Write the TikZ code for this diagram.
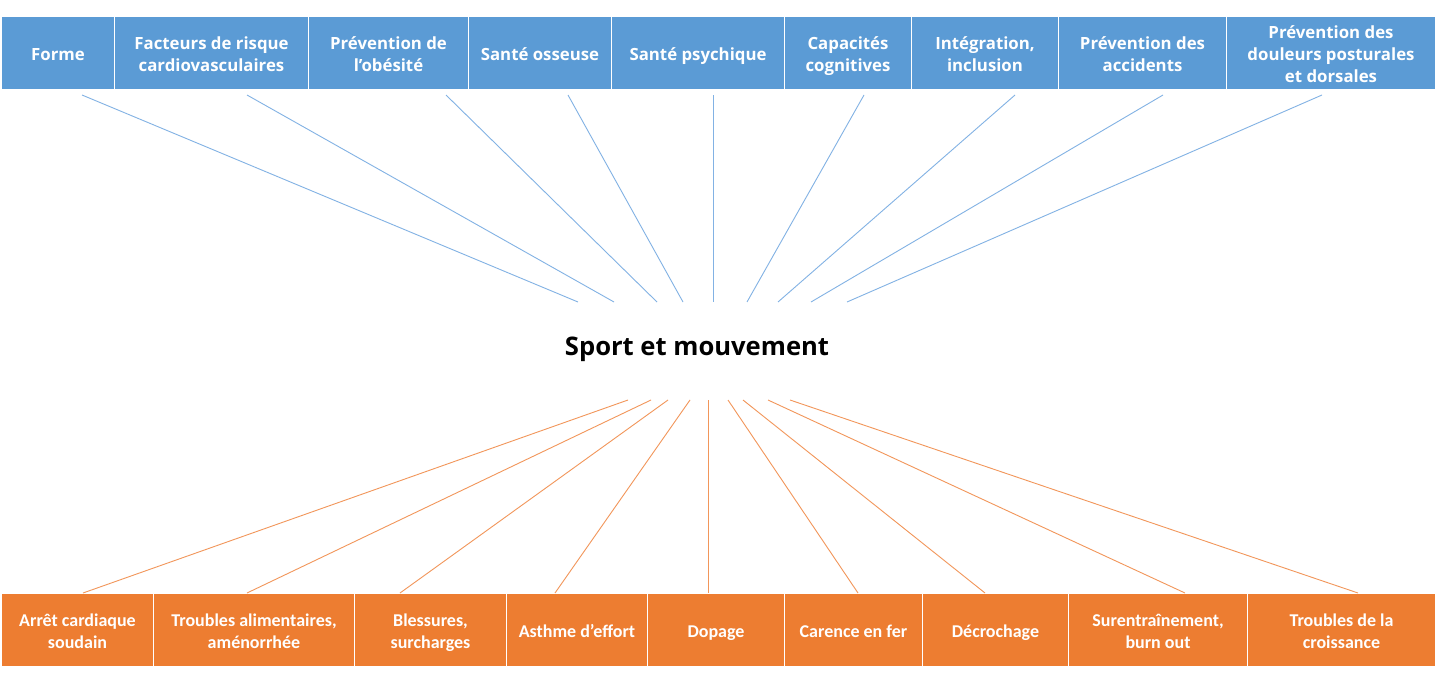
\documentclass[tikz,border=0pt]{standalone}
\usepackage{fontspec}
\setmainfont{Open Sans}
\newfontfamily\calib{Carlito}
\newcommand\tstr{\rule{0pt}{22.4pt}}
\definecolor{boxblue}{RGB}{91,155,213}
\definecolor{boxorange}{RGB}{237,125,49}
\definecolor{lineblue}{RGB}{130,178,228}
\definecolor{lineorange}{RGB}{242,150,90}
\tikzset{
  box/.style={rectangle, draw=white, line width=1.2pt, inner sep=0pt, minimum height=74pt,
    text=white, align=center},
  topbox/.style={box, fill=boxblue, font=\bfseries\fontsize{16.8}{22}\selectfont},
  botbox/.style={box, fill=boxorange, font=\calib\bfseries\fontsize{18}{22}\selectfont},
  bluelink/.style={draw=lineblue, line width=0.9pt},
  orangelink/.style={draw=lineorange, line width=0.9pt},
  centre/.style={font=\bfseries\fontsize{25.6}{30}\selectfont, text=black}
}
\begin{document}
\begin{tikzpicture}[x=1pt,y=-1pt]
\useasboundingbox[fill=white] (0,0) rectangle (1440,680);
% top boxes
\node[topbox, minimum width=113pt] (t1) at (58,53) {\tstr Forme\strut};
\node[topbox, minimum width=194pt] (t2) at (211.5,53) {\tstr Facteurs de risque\\cardiovasculaires\strut};
\node[topbox, minimum width=160pt] (t3) at (388.5,53) {\tstr Prévention de\\l’obésité\strut};
\node[topbox, minimum width=143pt] (t4) at (540,53) {\tstr Santé osseuse\strut};
\node[topbox, minimum width=173pt] (t5) at (698,53) {\tstr Santé psychique\strut};
\node[topbox, minimum width=127pt] (t6) at (848,53) {\tstr Capacités\\cognitives\strut};
\node[topbox, minimum width=147pt] (t7) at (985,53) {\tstr Intégration,\\inclusion\strut};
\node[topbox, minimum width=168pt] (t8) at (1142.5,53) {\tstr Prévention des\\accidents\strut};
\node[topbox, minimum width=209pt] (t9) at (1331,53) {\tstr Prévention des\\douleurs posturales\\et dorsales\strut};
% bottom boxes
\node[botbox, minimum width=152pt] (b1) at (77.5,630) {\tstr Arrêt cardiaque\\soudain\strut};
\node[botbox, minimum width=201pt] (b2) at (254,630) {\tstr Troubles alimentaires,\\aménorrhée\strut};
\node[botbox, minimum width=152pt] (b3) at (430.5,630) {\tstr Blessures,\\surcharges\strut};
\node[botbox, minimum width=141pt] (b4) at (577,630) {\tstr Asthme d’effort\strut};
\node[botbox, minimum width=137pt] (b5) at (716,630) {\tstr Dopage\strut};
\node[botbox, minimum width=138pt] (b6) at (853.5,630) {\tstr Carence en fer\strut};
\node[botbox, minimum width=146pt] (b7) at (995.5,630) {\tstr Décrochage\strut};
\node[botbox, minimum width=179pt] (b8) at (1158,630) {\tstr Surentraînement,\\burn out\strut};
\node[botbox, minimum width=188pt] (b9) at (1341.5,630) {\tstr Troubles de la\\croissance\strut};
% centre
\node[centre] (c) at (697,349) {Sport et mouvement};
% top connectors
\foreach \i/\sx/\ex in {1/82/578, 2/247/614, 3/446/657, 4/568/683, 5/713.5/713.5, 6/864/747, 7/1015/778, 8/1163/811, 9/1322/847}{
  \coordinate (ts\i) at (\sx,95);
  \coordinate (te\i) at (\ex,302);
  \draw[bluelink] (ts\i) -- (te\i);
}
% bottom connectors
\foreach \i/\sx/\ex in {1/628/83, 2/651/247, 3/668/400, 4/690/555, 5/708.5/708.5, 6/728/858, 7/743/985, 8/768/1185, 9/790/1358}{
  \coordinate (bs\i) at (\sx,400);
  \coordinate (be\i) at (\ex,593);
  \draw[orangelink] (bs\i) -- (be\i);
}
\end{tikzpicture}
\end{document}
